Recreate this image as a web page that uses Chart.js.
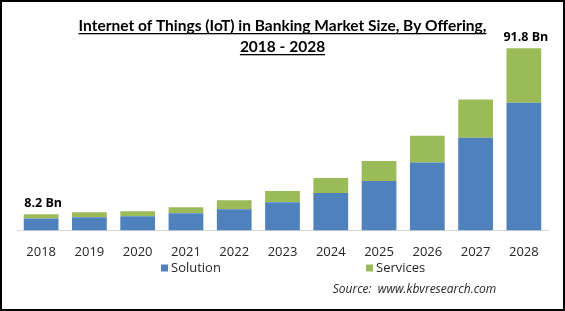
<!DOCTYPE html>
<html>
<head>
<meta charset="utf-8">
<script src="https://cdn.jsdelivr.net/npm/chart.js@4/dist/chart.umd.min.js"></script>
<style>
  html, body { margin: 0; padding: 0; background: #fff; }
  #wrap { width: 565px; height: 311px; position: relative; }
</style>
</head>
<body>
<div id="wrap"><canvas id="c" width="565" height="311"></canvas></div>
<script>
const years = ['2018','2019','2020','2021','2022','2023','2024','2025','2026','2027','2028'];
const solution = [6.0, 6.6, 7.1, 8.6, 10.7, 14.2, 18.8, 24.9, 34.2, 46.7, 64.4];
const services = [2.2, 2.5, 2.5, 3.1, 4.5, 5.6, 7.6, 10.1, 13.5, 19.3, 27.4];
const totalLabels = ['8.2 Bn', '', '', '', '', '', '', '', '', '', '91.8 Bn'];
const titleLines = ['Internet of Things (IoT) in Banking Market Size, By Offering,', '2018 - 2028'];
const sourceText = 'Source:  www.kbvresearch.com';

const FONT = '"Open Sans", "Noto Sans", sans-serif';

const decor = {
  id: 'decor',
  beforeDraw(chart) {
    const ctx = chart.ctx;
    ctx.save();
    ctx.fillStyle = '#ffffff';
    ctx.fillRect(0, 0, chart.width, chart.height);
    ctx.restore();
  },
  afterDraw(chart) {
    const ctx = chart.ctx;
    ctx.save();
    // border
    ctx.strokeStyle = '#000';
    ctx.lineWidth = 2;
    ctx.strokeRect(1, 1, chart.width - 2, chart.height - 2);

    // title
    ctx.fillStyle = '#000';
    ctx.font = 'bold 15.5px Lato, ' + FONT;
    ctx.textAlign = 'center';
    ctx.textBaseline = 'alphabetic';
    const cx = chart.width / 2;
    const ys = [31, 52];
    titleLines.forEach((t, i) => {
      ctx.fillText(t, cx, ys[i]);
      const w = ctx.measureText(t).width;
      ctx.fillRect(cx - w / 2, ys[i] + 2, w, 1.3);
    });

    // total labels
    const meta = chart.getDatasetMeta(1);
    ctx.font = 'bold 12.5px ' + FONT;
    ctx.textBaseline = 'middle';
    ctx.fillStyle = '#000';
    meta.data.forEach((bar, i) => {
      if (totalLabels[i]) ctx.fillText(totalLabels[i], bar.x + 2, bar.y - 10.5);
    });

    // legend
    ctx.font = '13px ' + FONT;
    ctx.textAlign = 'left';
    ctx.textBaseline = 'middle';
    const legendX = [161, 366];
    chart.data.datasets.forEach((ds, i) => {
      ctx.fillStyle = ds.backgroundColor;
      ctx.fillRect(legendX[i], 264.5, 7, 7);
      ctx.fillStyle = '#262626';
      ctx.fillText(ds.label, legendX[i] + 10, 268);
    });

    // source
    ctx.font = 'italic 12px ' + FONT;
    ctx.textAlign = 'center';
    ctx.fillStyle = '#262626';
    ctx.fillText(sourceText, 414.5, 290);
    ctx.restore();
  }
};

new Chart(document.getElementById('c'), {
  type: 'bar',
  data: {
    labels: years,
    datasets: [
      { label: 'Solution', data: solution, backgroundColor: '#4f81bd', borderWidth: 0 },
      { label: 'Services', data: services, backgroundColor: '#9bbb59', borderWidth: 0 }
    ]
  },
  options: {
    responsive: false,
    animation: false,
    devicePixelRatio: 1,
    layout: { padding: { left: 17, right: 17, top: 32, bottom: 37 } },
    plugins: { legend: { display: false }, title: { display: false }, tooltip: { enabled: false } },
    scales: {
      x: {
        stacked: true,
        categoryPercentage: 1,
        barPercentage: 0.4,
        grid: { display: true, drawOnChartArea: false, drawTicks: false },
        border: { display: true, color: '#d9d9d9', width: 1 },
        ticks: { color: '#262626', font: { family: FONT, size: 13 }, padding: 14, maxRotation: 0 }
      },
      y: {
        stacked: true,
        display: false,
        min: 0,
        max: 100
      }
    }
  },
  plugins: [decor]
});
</script>
</body>
</html>
